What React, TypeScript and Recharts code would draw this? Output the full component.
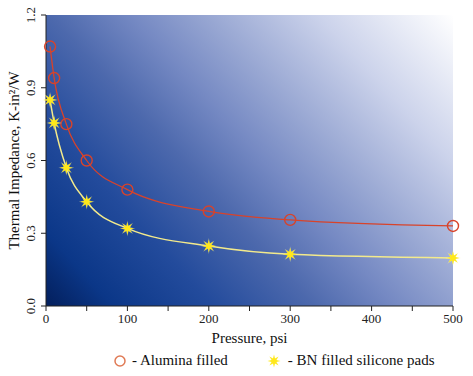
import React from "react";
import {
  ComposedChart,
  Line,
  XAxis,
  YAxis,
  ReferenceArea,
} from "recharts";

// Pressure values (psi)
const pressures = [5, 10, 25, 50, 100, 200, 300, 500];
// Thermal impedance (K-in²/W)
const aluminaValues = [1.07, 0.94, 0.75, 0.6, 0.48, 0.39, 0.355, 0.33];
const bnValues = [0.85, 0.755, 0.57, 0.43, 0.32, 0.247, 0.213, 0.198];

const xTicks = [0, 50, 100, 150, 200, 250, 300, 350, 400, 450, 500];
const yTicks = [0, 0.3, 0.6, 0.9, 1.2];

const chartData = pressures.map((p, i) => ({
  pressure: p,
  alumina: aluminaValues[i],
  bn: bnValues[i],
}));

const RED = "#d8432a";
const YELLOW = "#f3ea8c";
const STAR = "#ffe81a";
const FONT = "Liberation Serif, serif";

function starPoints(cx: number, cy: number, outer: number, inner: number) {
  const pts: string[] = [];
  for (let i = 0; i < 16; i++) {
    const r = i % 2 === 0 ? outer : inner;
    const a = (Math.PI / 8) * i - Math.PI / 2;
    pts.push(`${cx + r * Math.cos(a)},${cy + r * Math.sin(a)}`);
  }
  return pts.join(" ");
}

function CircleDot({ cx, cy }: { cx?: number; cy?: number }) {
  if (cx == null || cy == null) return null;
  return <circle cx={cx} cy={cy} r={5.5} fill="none" stroke={RED} strokeWidth={1.4} />;
}

function StarDot({ cx, cy }: { cx?: number; cy?: number }) {
  if (cx == null || cy == null) return null;
  return (
    <g>
      <polygon points={starPoints(cx, cy, 8, 3)} fill="#fff6a0" opacity={0.45} />
      <polygon points={starPoints(cx, cy, 6.5, 2.6)} fill={STAR} />
    </g>
  );
}

function YTick({ x, y, payload }: any) {
  return (
    <text
      x={0}
      y={0}
      transform={`translate(${x - 4},${y}) rotate(-90)`}
      textAnchor="middle"
      fontSize={13}
      fill="#222"
      fontFamily={FONT}
    >
      {payload.value.toFixed(1)}
    </text>
  );
}

function XTick({ x, y, payload }: any) {
  if (payload.value % 100 !== 0) return null;
  return (
    <text x={x} y={y + 10} textAnchor="middle" fontSize={13} fill="#222" fontFamily={FONT}>
      {payload.value}
    </text>
  );
}

export default function App() {
  return (
    <div style={{ position: "absolute", left: 0, top: 0, width: 473, height: 376, background: "#fff", fontFamily: FONT }}>
      <ComposedChart
        width={473}
        height={376}
        data={chartData}
        margin={{ top: 15, right: 20, bottom: 0, left: 0 }}
      >
        <defs>
          {/* diagonal, tilted so the top-right corner is the white end */}
          <linearGradient id="bgGrad" x1="0" y1="1" x2="1.16" y2="0.246">
            <stop offset="0" stopColor="#031f5c" />
            <stop offset="0.1" stopColor="#0b3788" />
            <stop offset="0.25" stopColor="#234b9c" />
            <stop offset="0.4" stopColor="#4d69ad" />
            <stop offset="0.52" stopColor="#7589c3" />
            <stop offset="0.63" stopColor="#97a6d2" />
            <stop offset="0.8" stopColor="#ccd3eb" />
            <stop offset="1" stopColor="#ffffff" />
          </linearGradient>
        </defs>
        <ReferenceArea
          x1={0}
          x2={500}
          y1={0}
          y2={1.2}
          fill="url(#bgGrad)"
          fillOpacity={1}
          stroke="none"
          ifOverflow="extendDomain"
        />
        <XAxis
          dataKey="pressure"
          type="number"
          domain={[0, 500]}
          ticks={xTicks}
          interval={0}
          tick={<XTick />}
          tickLine={{ stroke: "#222" }}
          tickSize={5}
          axisLine={{ stroke: "#222" }}
          height={70}
          label={{
            value: "Pressure, psi",
            position: "insideTop",
            offset: 26,
            style: { fill: "#111", fontSize: 15, fontFamily: FONT },
          }}
        />
        <YAxis
          type="number"
          domain={[0, 1.2]}
          ticks={yTicks}
          interval={0}
          tick={<YTick />}
          tickLine={{ stroke: "#222" }}
          tickSize={5}
          axisLine={{ stroke: "#222" }}
          width={46}
          label={{
            value: "Thermal Impedance, K-in²/W",
            angle: -90,
            position: "insideLeft",
            offset: 14,
            style: { fill: "#111", fontSize: 15, fontFamily: FONT, textAnchor: "middle" },
          }}
        />
        <Line
          dataKey="alumina"
          type="monotone"
          stroke={RED}
          strokeWidth={1.3}
          dot={<CircleDot />}
          activeDot={false}
          isAnimationActive={false}
        />
        <Line
          dataKey="bn"
          type="monotone"
          stroke={YELLOW}
          strokeWidth={1.5}
          dot={<StarDot />}
          activeDot={false}
          isAnimationActive={false}
        />
      </ComposedChart>
      {/* Legend */}
      <div style={{ position: "absolute", top: 352, left: 113, display: "flex", alignItems: "center", fontSize: 15, color: "#111", whiteSpace: "nowrap" }}>
        <svg width={14} height={14}>
          <circle cx={7} cy={7} r={5} fill="none" stroke="#e07a55" strokeWidth={1.5} />
        </svg>
        <span style={{ marginLeft: 5 }}>- Alumina filled</span>
        <svg width={16} height={16} style={{ marginLeft: 38 }}>
          <polygon points={starPoints(8, 8, 6.5, 2.6)} fill={STAR} />
        </svg>
        <span style={{ marginLeft: 6 }}>- BN filled silicone pads</span>
      </div>
    </div>
  );
}
